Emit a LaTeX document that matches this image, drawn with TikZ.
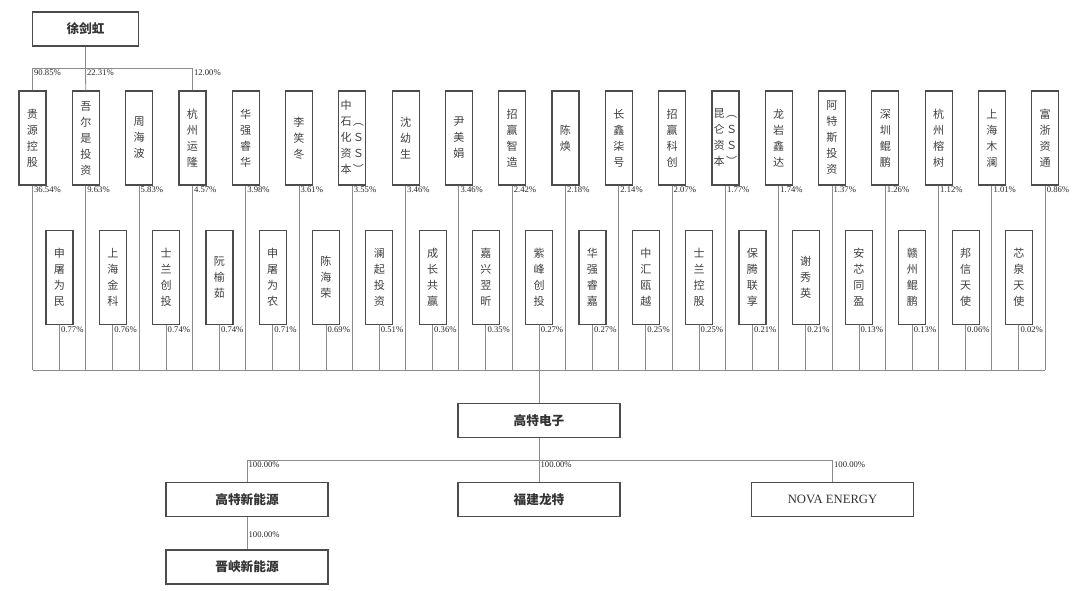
\documentclass[tikz,border=0pt]{standalone}
\usepackage{fontspec}
\setmainfont{Liberation Serif}
\newfontfamily\cjk{Noto Sans CJK SC}
\newcommand\ssA{\begin{tabular}{@{}c@{\hspace{1pt}}c@{}}中&\\石&︵\\化&Ｓ\\资&Ｓ\\本&︶\end{tabular}}
\newcommand\ssB{\begin{tabular}{@{}c@{\hspace{1pt}}c@{}}昆&︵\\仑&Ｓ\\资&Ｓ\\本&︶\end{tabular}}
\begin{document}
\begin{tikzpicture}[x=0.75pt,y=-0.75pt,
  ln/.style={draw=black!45,line width=0.7pt},
  bx/.style={draw=black!70,line width=0.9pt,fill=white,inner sep=0pt},
  vbox/.style={bx,minimum width=20.25pt,minimum height=70.5pt,align=center,font=\cjk\fontsize{8.3}{12}\selectfont,text=black!75},
  hbox/.style={bx,minimum width=121.5pt,minimum height=25.5pt,font=\cjk\bfseries\fontsize{9.5}{11}\selectfont,text=black!80},
  pct/.style={font=\fontsize{6.5}{7}\selectfont,inner sep=1pt,text=black!85}]
\useasboundingbox (0,0) rectangle (1080,590);
\coordinate (bus) at (0,370);
\node[hbox,minimum width=79.5pt] (xu) at (85.5,29) {徐剑虹};
\foreach \n [count=\i] in {{贵\\源\\控\\股},{吾\\尔\\是\\投\\资},{周\\海\\波},{杭\\州\\运\\隆},{华\\强\\睿\\华},{李\\笑\\冬},{\ssA},{沈\\幼\\生},{尹\\美\\娟},{招\\赢\\智\\造},{陈\\焕},{长\\鑫\\柒\\号},{招\\赢\\科\\创},{\ssB},{龙\\岩\\鑫\\达},{阿\\特\\斯\\投\\资},{深\\圳\\鲲\\鹏},{杭\\州\\榕\\树},{上\\海\\木\\澜},{富\\浙\\资\\通}}
  \node[vbox] (t\i) at ({32.5+53.3*(\i-1)},138) {\n};
\foreach \p [count=\i] in {36.54,9.63,5.83,4.57,3.98,3.61,3.55,3.46,3.46,2.42,2.18,2.14,2.07,1.77,1.74,1.37,1.26,1.12,1.01,0.86}{
  \draw[ln] (t\i.south) -- (t\i.south |- bus);
  \node[pct,anchor=north west] at (t\i.south) {\p\%};}
\foreach \n [count=\i] in {{申\\屠\\为\\民},{上\\海\\金\\科},{士\\兰\\创\\投},{阮\\榆\\茹},{申\\屠\\为\\农},{陈\\海\\荣},{澜\\起\\投\\资},{成\\长\\共\\赢},{嘉\\兴\\翌\\昕},{紫\\峰\\创\\投},{华\\强\\睿\\嘉},{中\\汇\\瓯\\越},{士\\兰\\控\\股},{保\\腾\\联\\享},{谢\\秀\\英},{安\\芯\\同\\盈},{赣\\州\\鲲\\鹏},{邦\\信\\天\\使},{芯\\泉\\天\\使}}
  \node[vbox] (b\i) at ({59.5+53.3*(\i-1)},277.5) {\n};
\foreach \p [count=\i] in {0.77,0.76,0.74,0.74,0.71,0.69,0.51,0.36,0.35,0.27,0.27,0.25,0.25,0.21,0.21,0.13,0.13,0.06,0.02}{
  \draw[ln] (b\i.south) -- (b\i.south |- bus);
  \node[pct,anchor=north west] at (b\i.south) {\p\%};}
\draw[ln] (t1.south |- bus) -- (t20.south |- bus);
% top owner
\coordinate (xj) at (87.5,68);
\draw[ln] (xu.south) -- (xu.south |- xj);
\draw[ln] (t1.north) -- (t1.north |- xj) -- (t4.north |- xj) -- (t4.north);
\draw[ln] (xu.south |- xj) -- (t2.north);
\node[pct,anchor=north west] at (t1.north |- xj) {90.85\%};
\node[pct,anchor=north west] at (xu.south |- xj) {22.31\%};
\node[pct,anchor=north west] at (t4.north |- xj) {12.00\%};
% company
\node[hbox] (gt) at (539,420.5) {高特电子};
\draw[ln] (gt.north |- bus) -- (gt.north);
\node[hbox] (xn) at (247,499.5) {高特新能源};
\node[hbox] (fj) at (539,499.5) {福建龙特};
\node[hbox,font=\fontsize{9.5}{11}\selectfont] (nv) at (832.5,499.5) {NOVA ENERGY};
\node[hbox] (jx) at (247,567) {晋峡新能源};
\coordinate (sj) at (0,460);
\draw[ln] (gt.south) -- (gt.south |- sj);
\draw[ln] (xn.north) -- (xn.north |- sj) -- (nv.north |- sj) -- (nv.north);
\draw[ln] (fj.north |- sj) -- (fj.north);
\foreach \c in {xn,fj,nv}
  \node[pct,anchor=north west] at (\c.north |- sj) {100.00\%};
\draw[ln] (xn) -- (jx);
\node[pct,anchor=north west] at ([yshift=-10]xn.south) {100.00\%};
\end{tikzpicture}
\end{document}
